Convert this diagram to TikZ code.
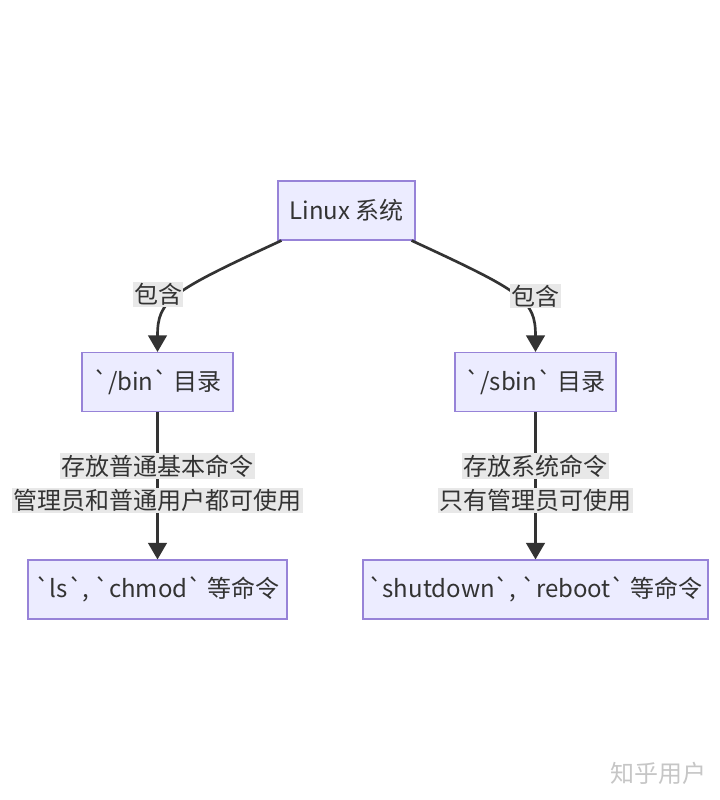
\documentclass[tikz,border=0pt]{standalone}
\usepackage{fontspec}
\setmainfont{Noto Sans CJK SC}[Ligatures=TeXOff]
\usetikzlibrary{arrows.meta}

\definecolor{nodefill}{HTML}{ECECFF}
\definecolor{nodeline}{HTML}{9783D8}
\definecolor{linkcol}{HTML}{333333}
\definecolor{lblfill}{HTML}{E8E8E8}
\definecolor{markgray}{HTML}{C6C6C6}

\setlength{\fboxsep}{1pt}
\newcommand{\lblline}[1]{\colorbox{lblfill}{#1}}

\tikzset{
  box/.style={draw=nodeline, fill=nodefill, line width=0.8pt, inner sep=0pt,
    minimum height=44.25pt, text=linkcol, font=\fontsize{18}{22}\selectfont},
  link/.style={draw=linkcol, line width=2pt, -{Triangle[length=12.5pt,width=14pt]}},
  lbl/.style={inner sep=0pt, align=center, text=linkcol, font=\fontsize{18}{25.5}\selectfont},
  wmark/.style={inner sep=0pt, text=markgray, font=\fontsize{18}{22}\selectfont}
}

\begin{document}
\begin{tikzpicture}[x=0.75pt,y=-0.75pt]
        \fill[white] (0,0) rectangle (720,800);
        \useasboundingbox (0,0) rectangle (720,800);
        % nodes
        \node[box, minimum width={137*0.75pt}] (sys) at (346.5,210.5) {Linux 系统};
        \node[box, minimum width={151*0.75pt}] (bin) at (157.5,382) {`/bin` 目录};
        \node[box, minimum width={161*0.75pt}] (sbin) at (535.5,382) {`/sbin` 目录};
        \node[box, minimum width={259*0.75pt}] (ls) at (157.5,589.5) {`ls`, `chmod` 等命令};
        \node[box, minimum width={345*0.75pt}] (shut) at (535.5,589.5) {`shutdown`, `reboot` 等命令};
        % links
        \draw[link] ([xshift=3pt]sys.south west) .. controls (170,292) and (157.5,300) .. (bin.north);
        \draw[link] ([xshift=-3pt]sys.south east) .. controls (523,292) and (535.5,300) .. (sbin.north);
        \draw[link] (bin) -- (ls);
        \draw[link] (sbin) -- (shut);
        % link labels
        \node[lbl] (incA) at (158,294.5) {\lblline{包含}};
        \node[lbl] (incB) at (535.5,296) {\lblline{包含}};
        \node[lbl] (useA) at (157.5,483) {\lblline{存放普通基本命令}\\\lblline{管理员和普通用户都可使用}};
        \node[lbl] (useB) at (535.5,483) {\lblline{存放系统命令}\\\lblline{只有管理员可使用}};
        \node[wmark] (zhihu) at (658,773) {知乎用户};
    \end{tikzpicture}
\end{document}
